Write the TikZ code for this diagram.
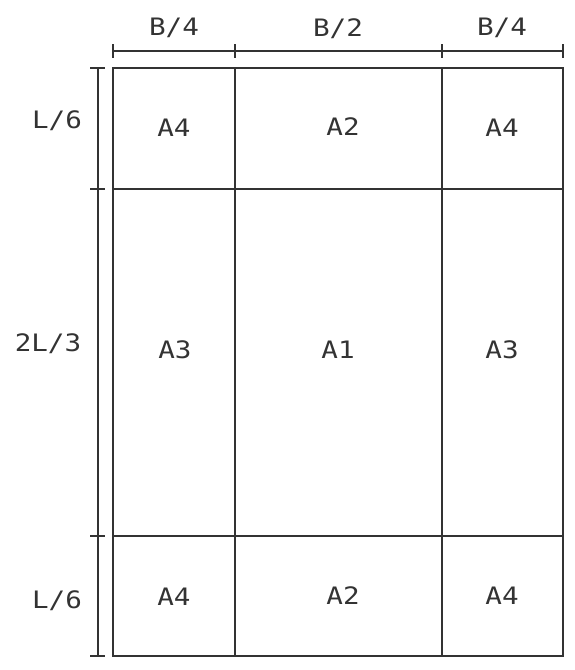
\documentclass[tikz,border=0pt]{standalone}
\usepackage{fontspec}
\setmainfont[FakeStretch=1.15]{DejaVu Sans Mono}
\tikzset{
  slabline/.style={draw=black!80, line width=1.4pt},
  dimline/.style={draw=black!80, line width=1.2pt},
  zone/.style={font=\fontsize{24}{26}\selectfont, text=black!80},
  dimtext/.style={font=\fontsize{24}{26}\selectfont, text=black!80}
}
\begin{document}
\begin{tikzpicture}[x=1pt, y=-1pt]
        \useasboundingbox (0,0) rectangle (574,670);

        % Slab outline and strip lines
        \draw[slabline] (113,68) rectangle (563,656);
        \draw[slabline] (235,68) -- (235,656);
        \draw[slabline] (442,68) -- (442,656);
        \draw[slabline] (113,189) -- (563,189);
        \draw[slabline] (113,536) -- (563,536);

        % Dimension line along the top
        \draw[dimline] (113,51) -- (563,51);
        \foreach \x in {113,235,442,563}
            \draw[dimline] (\x,44) -- (\x,58);

        % Dimension line along the left side
        \draw[dimline] (98,68) -- (98,656);
        \foreach \y in {68,189,536,656}
            \draw[dimline] (90,\y) -- (105,\y);

        % Dimension labels
        \node[dimtext] (b4l) at (174,28) {B/4};
        \node[dimtext] (b2) at (338,29) {B/2};
        \node[dimtext] (b4r) at (502,28) {B/4};
        \node[dimtext] (l6t) at (57,121) {L/6};
        \node[dimtext] (l23) at (48,344) {2L/3};
        \node[dimtext] (l6b) at (57,601) {L/6};

        % Zone labels
        \node[zone] (a4tl) at (174,128) {A4};
        \node[zone] (a2t) at (343,127) {A2};
        \node[zone] (a4tr) at (502,128) {A4};
        \node[zone] (a3l) at (175,350) {A3};
        \node[zone] (a1) at (338,350) {A1};
        \node[zone] (a3r) at (502,350) {A3};
        \node[zone] (a4bl) at (174,597) {A4};
        \node[zone] (a2b) at (343,596) {A2};
        \node[zone] (a4br) at (502,596) {A4};
\end{tikzpicture}
\end{document}
